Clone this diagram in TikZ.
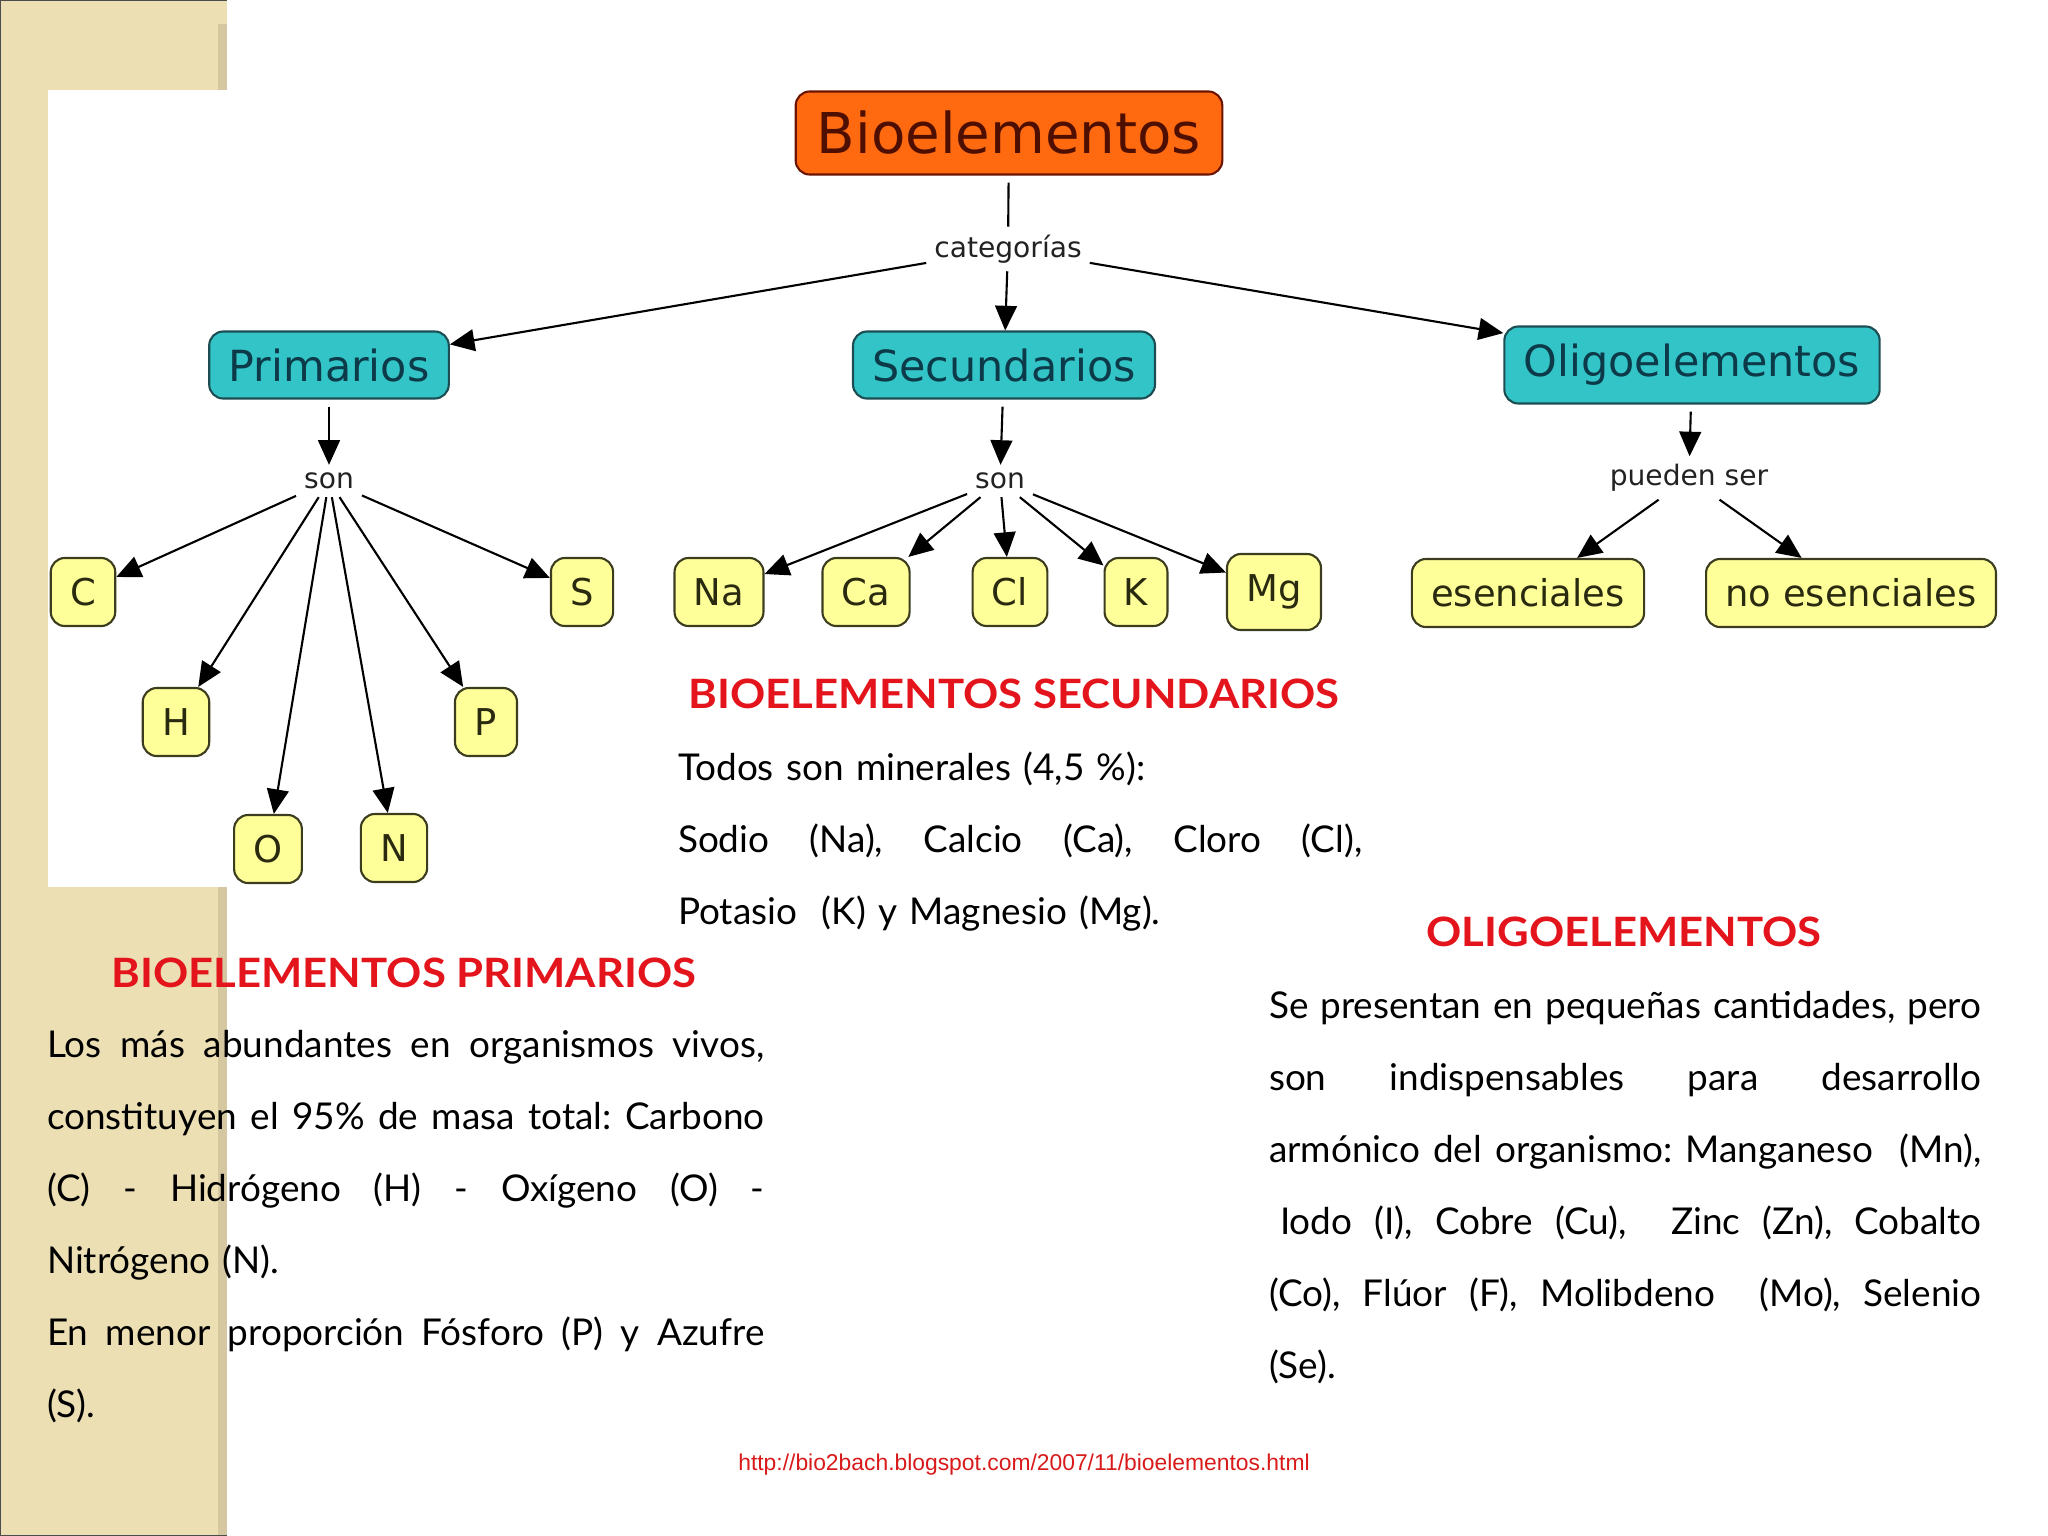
\documentclass[tikz,border=0pt]{standalone}
\usepackage{fontspec}
\setmainfont{Lato}
\newfontfamily\mapfont{DejaVu Sans}
\newfontfamily\headfont[FakeStretch=1.08]{Lato}
\newfontfamily\linkfont{Liberation Sans}
\usepackage{xcolor}
\usetikzlibrary{arrows.meta,positioning}

\definecolor{bioorange}{HTML}{FF6A10}
\definecolor{bioborder}{HTML}{6A1300}
\definecolor{biotext}{HTML}{4F0F00}
\definecolor{catteal}{HTML}{33C4C8}
\definecolor{catborder}{HTML}{1B4D52}
\definecolor{cattext}{HTML}{0C3A48}
\definecolor{leafyellow}{HTML}{FFFF99}
\definecolor{leafborder}{HTML}{3C3C1E}
\definecolor{leaftext}{HTML}{2A2A10}
\definecolor{labeltext}{HTML}{222222}
\definecolor{headred}{HTML}{E3141B}
\definecolor{linkred}{HTML}{D91A1A}
\definecolor{beige}{HTML}{ECDFB4}
\definecolor{beigedark}{HTML}{D5C7A0}

\newcommand{\fullline}[2]{\makebox[#1][s]{\spaceskip=.3333em plus 1em minus .1em\relax\frenchspacing #2}}

\begin{document}
\begin{tikzpicture}[>={Triangle[length=7pt,width=6.2pt]},x=0.01cm,y=-0.01cm,line width=0.6pt,
    root/.style={draw=bioborder,fill=bioorange,text=biotext,rounded corners=4pt,
        font=\mapfont\fontsize{16}{19}\selectfont,inner xsep=6pt,minimum height=0.83cm},
    concept/.style={draw=catborder,fill=catteal,text=cattext,rounded corners=4pt,
        font=\mapfont\fontsize{12.2}{14}\selectfont,inner xsep=5.5pt,minimum height=0.67cm},
    leaf/.style={draw=leafborder,fill=leafyellow,text=leaftext,rounded corners=4pt,
        font=\mapfont\fontsize{10.5}{12}\selectfont,inner xsep=5.5pt,minimum height=0.68cm,minimum width=0.62cm},
    linkword/.style={font=\mapfont\fontsize{8}{10}\selectfont,text=labeltext,inner sep=2pt},
    heading/.style={font=\headfont\bfseries\fontsize{11.5}{14}\selectfont,text=headred},
    bodytext/.style={font=\fontsize{10.5}{20.5}\selectfont,align=left,inner sep=0pt,anchor=base west}]
    \useasboundingbox (0,0) rectangle (2048,1536);

    \fill[beige] (0,0) rectangle (227,1536);
    \fill[beigedark] (218,24) rectangle (227,90);
    \fill[beigedark] (218,887) rectangle (227,1536);
    \fill[white] (48,90) rectangle (227,887);
    \draw[black!70,line width=0.8pt] (227,0) -- (0,0) -- (0,1536) -- (227,1536);

    \node[root] (bio) at (1009,133) {Bioelementos};
    \node[linkword] (cat) at (1008,249) {categorías};
    \node[concept] (prim) at (329,365) {Primarios};
    \node[concept] (sec) at (1004,365) {Secundarios};
    \node[concept,minimum height=0.77cm] (oligo) at (1692,365) {Oligoelementos};

    \node[linkword] (son1) at (329,481) {son};
    \node[linkword] (son2) at (1000,481) {son};
    \node[linkword] (pueden) at (1689,478) {pueden ser};

    \node[leaf] (C) at (83,592) {C};
    \node[leaf] (S) at (582,592) {S};
    \node[leaf] (H) at (176,722) {H};
    \node[leaf] (P) at (486,722) {P};
    \node[leaf] (O) at (268,849) {O};
    \node[leaf] (N) at (394,848) {N};

    \node[leaf] (Na) at (719,592) {Na};
    \node[leaf] (Ca) at (866,592) {Ca};
    \node[leaf] (Cl) at (1010,592) {Cl};
    \node[leaf] (K) at (1136,592) {K};
    \node[leaf,minimum height=0.76cm] (Mg) at (1274,592) {Mg};

    \node[leaf] (esen) at (1528,593) {esenciales};
    \node[leaf] (noesen) at (1851,593) {no esenciales};

    \draw[shorten <=2pt] (bio) -- (cat);
    \draw[->] (cat) -- (prim);
    \draw[->] (cat) -- (sec);
    \draw[->] (cat) -- (oligo);

    \draw[->,shorten <=2pt] (prim) -- (son1);
    \draw[->] (son1) -- (C);
    \draw[->] (son1) -- (H);
    \draw[->] (son1) -- (O);
    \draw[->] (son1) -- (N);
    \draw[->] (son1) -- (P);
    \draw[->] (son1) -- (S);

    \draw[->,shorten <=2pt] (sec) -- (son2);
    \draw[->] (son2) -- (Na);
    \draw[->] (son2) -- (Ca);
    \draw[->] (son2) -- (Cl);
    \draw[->] (son2) -- (K);
    \draw[->] (son2) -- (Mg);

    \draw[->,shorten <=2pt] (oligo) -- (pueden);
    \draw[->] (pueden) -- (esen);
    \draw[->] (pueden) -- (noesen);

    \node[heading] (sechead) at (1014,694) {BIOELEMENTOS SECUNDARIOS};
    \node[bodytext,text width=6.84cm] (sectext) at (677,780) {Todos son minerales (4,5 \%):\\
        \fullline{6.84cm}{Sodio (Na), Calcio (Ca), Cloro (Cl),}\\
        Potasio~ (K) y Magnesio (Mg).};

    \node[heading] (primhead) at (404,973) {BIOELEMENTOS PRIMARIOS};
    \node[bodytext,text width=7.17cm] (primtext) at (46,1057) {\fullline{7.17cm}{Los más abundantes en organismos vivos,}\\
        \fullline{7.17cm}{constituyen el 95\% de masa total: Carbono}\\
        \fullline{7.17cm}{(C) - Hidrógeno (H) - Oxígeno (O) -}\\
        Nitrógeno (N).\\
        \fullline{7.17cm}{En menor proporción Fósforo (P) y Azufre}\\
        (S).};

    \node[heading] (oligohead) at (1624,932) {OLIGOELEMENTOS};
    \node[bodytext,text width=7.12cm] (oligotext) at (1268,1018) {\fullline{7.12cm}{Se presentan en pequeñas cantidades, pero}\\
        \fullline{7.12cm}{son indispensables para desarrollo}\\
        \fullline{7.12cm}{armónico del organismo: Manganeso~ (Mn),}\\
        \fullline{7.12cm}{\hspace*{0.3em}Iodo (I), Cobre (Cu),~ Zinc (Zn), Cobalto}\\
        \fullline{7.12cm}{(Co), Flúor (F), Molibdeno~ (Mo), Selenio}\\
        (Se).};

    \node[font=\linkfont\fontsize{6.5}{8}\selectfont,text=linkred] (source) at (1024,1465) {http://bio2bach.blogspot.com/2007/11/bioelementos.html};
\end{tikzpicture}
\end{document}
